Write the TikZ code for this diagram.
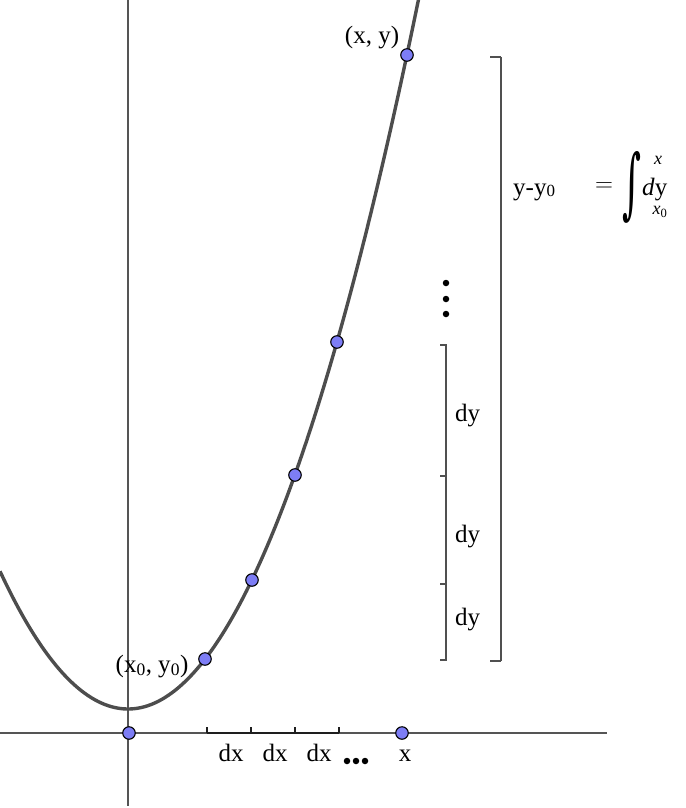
\documentclass[tikz,border=0pt]{standalone}
\usepackage{fontspec}
\usepackage{graphicx}
\setmainfont{Liberation Serif}
\newfontfamily\djserif{DejaVu Serif}
\begin{document}
\begin{tikzpicture}[x=1pt,y=-1pt,
  lbl/.style={font=\fontsize{25}{30}\selectfont, inner sep=0pt},
  small/.style={font=\fontsize{18}{21}\selectfont, inner sep=0pt},
  axis/.style={draw={rgb,255:red,85;green,85;blue,85}, line width=2.4pt},
  curve/.style={draw={rgb,255:red,77;green,77;blue,77}, line width=3.4pt},
  brk/.style={draw={rgb,255:red,80;green,80;blue,80}, line width=2.4pt},
  pt/.style={circle, draw=black, line width=1.1pt, fill={rgb,255:red,125;green,125;blue,245}, minimum size=12.5pt, inner sep=0pt},
  dot/.style={circle, fill=black, minimum size=6.5pt, inner sep=0pt}]
\useasboundingbox (0,0) rectangle (685,808);
% axes
\coordinate (yt) at (128,0);
\coordinate (yb) at (128,806);
\coordinate (xl) at (0,733);
\coordinate (xr) at (607,733);
\draw[axis] (yt) -- (yb);
\draw[axis] (xl) -- (xr);
% curve
\draw[curve] plot[domain=0:418.5, samples=120, smooth] (\x, {709-0.0084*(\x-128)*(\x-128)});
% dx ticks
\coordinate (t1) at (207,733);
\coordinate (t2) at (251,733);
\coordinate (t3) at (295,733);
\coordinate (t4) at (339,733);
\draw[line width=2.6pt, draw={rgb,255:red,30;green,30;blue,30}] (t1) -- (t4);
\foreach \t in {t1,t2,t3,t4} \draw[line width=1.8pt, draw={rgb,255:red,30;green,30;blue,30}] (\t) -- ++(0,-6);
% labels on x-axis
\node[lbl, anchor=base] (dx1) at (231,761) {dx};
\node[lbl, anchor=base] (dx2) at (275,761) {dx};
\node[lbl, anchor=base] (dx3) at (319,761) {dx};
\node[lbl, anchor=base] (xlab) at (405,761) {x};
\node[dot] (hd1) at (347,761) {};
\node[dot] (hd2) at (356,761) {};
\node[dot] (hd3) at (365,761) {};
% points
\node[pt] (o) at (129,733) {};
\node[pt] (px) at (402,733) {};
\node[pt] (p0) at (205,659) {};
\node[pt] (p1) at (252,580) {};
\node[pt] (p2) at (295,475) {};
\node[pt] (p3) at (337,342) {};
\node[pt] (pe) at (407,55) {};
\node[lbl, anchor=base] (lxy) at (372,44) {(x, y)};
\node[lbl, anchor=base] (lx0) at (152,672) {(x\textsubscript{0}, y\textsubscript{0})};
% small bracket
\coordinate (s0) at (446,345);
\coordinate (s1) at (446,476);
\coordinate (s2) at (446,584);
\coordinate (s3) at (446,660);
\draw[brk] (s0) -- (s3);
\foreach \s in {s0,s1,s2,s3} \draw[brk] (\s) ++(-6,0) -- ++(7,0);
\node[lbl, anchor=base west] (dy1) at (455,421) {dy};
\node[lbl, anchor=base west] (dy2) at (455,542) {dy};
\node[lbl, anchor=base west] (dy3) at (455,625) {dy};
\node[dot] (vd1) at (446,283) {};
\node[dot] (vd2) at (446,299) {};
\node[dot] (vd3) at (446,314) {};
% big bracket
\coordinate (b0) at (501,57);
\coordinate (b1) at (501,661);
\draw[brk] (b0) -- (b1);
\draw[brk] (b0) -- ++(-11,0);
\draw[brk] (b1) -- ++(-11,0);
% formula
\node[lbl, anchor=base west] (lhs) at (513,195) {y-y\raisebox{-1pt}{\fontsize{17}{20}\selectfont 0}};
\node[inner sep=0pt, font=\fontsize{31}{34}\selectfont, anchor=center] (eq) at (604,187) {$=$};
\node[inner sep=0pt, anchor=center] (int) at (632,187) {\resizebox{19pt}{58pt}{\djserif ∫}};
\node[lbl, anchor=base west] (dd) at (642,195) {\textit{d}y};
\node[small, anchor=center] (up) at (658,160) {\textit{x}};
\node[small, anchor=center] (lo) at (660,212) {\textit{x}\textsubscript{0}};
\end{tikzpicture}
\end{document}
